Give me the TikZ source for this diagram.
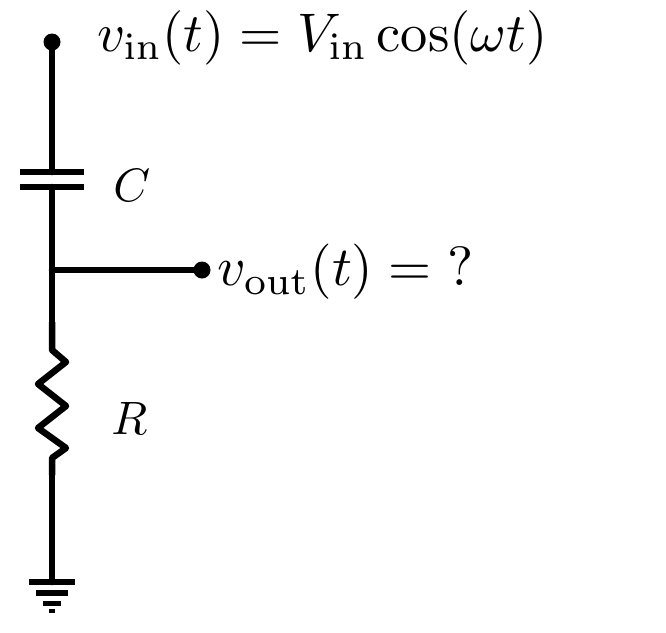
\documentclass[tikz,border=0pt]{standalone}
\usepackage{graphicx}
\usetikzlibrary{calc}
\begin{document}
\begin{tikzpicture}[x=1pt,y=-1pt,line width=6.5pt,
  wire/.style={line width=6.5pt,line cap=round},
  term/.style={circle,fill=black,inner sep=0pt,minimum size=17pt},
  lbl/.style={anchor=west,inner sep=0pt}]
\useasboundingbox (0,0) rectangle (666,632);
\node[term] (in) at (52,42) {};
\node[term] (out) at (202,270) {};
\coordinate (c1) at (52,172);
\coordinate (c2) at (52,187);
\coordinate (j) at (52,270);
\coordinate (r1) at (52,322);
\coordinate (r2) at (52,475);
\coordinate (g) at (52,582);
\draw[wire] (in.center) -- (c1);
\draw (20,172) -- (84,172);
\draw (20,187) -- (84,187);
\draw[wire] (c2) -- (j) -- (r1);
\draw[wire] (j) -- (out.center);
\draw[line join=round] (r1) -- (52,350) -- (66,362) -- (38,384) -- (66,406) -- (38,428) -- (66,448) -- (52,458) -- (r2);
\draw[wire] (r2) -- (g);
\draw (29,582) -- (75,582);
\draw[line width=6pt] (36,593) -- (68,593);
\draw[line width=5pt] (43,603) -- (61,603);
\draw[line width=4pt] (49,611) -- (55,611);
\node[lbl] (tin) at (94,38) {\resizebox{450pt}{!}{$v_{\mathrm{in}}(t)=V_{\mathrm{in}}\cos(\omega t)$}};
\node[lbl] (tc) at (110,185) {\resizebox{!}{32pt}{$C$}};
\node[lbl] (tout) at (214,272) {\resizebox{256pt}{!}{$v_{\mathrm{out}}(t)=\mathord{?}$}};
\node[lbl] (tr) at (108,418) {\resizebox{!}{32pt}{$R$}};
\end{tikzpicture}
\end{document}
